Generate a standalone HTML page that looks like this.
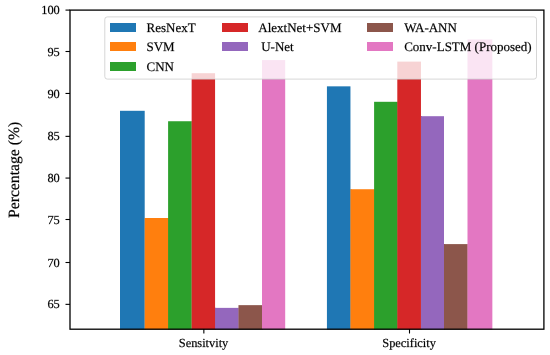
<!DOCTYPE html>
<html><head><meta charset="utf-8"><style>
html,body{margin:0;padding:0;background:#fff;width:550px;height:355px;overflow:hidden}
svg{display:block;will-change:transform}
text{font-family:"Liberation Serif",serif;fill:#000;stroke:#000;stroke-width:0.3px;stroke-opacity:0.6;text-rendering:geometricPrecision}
</style></head><body>
<svg width="550" height="355" viewBox="0 0 550 355">
<rect x="0" y="0" width="550" height="355" fill="#fff"/>
<!-- bars -->
<g>
<rect x="120.0" y="110.8" width="24.7" height="218.8" fill="#1f77b4"/>
<rect x="144.7" y="218.0" width="1" height="111.6" fill="#1f77b4"/>
<rect x="144.7" y="218.0" width="23.4" height="111.6" fill="#ff7f0e"/>
<rect x="168.1" y="218.0" width="1" height="111.6" fill="#ff7f0e"/>
<rect x="168.1" y="121.24" width="23.55" height="208.36" fill="#2ca02c"/>
<rect x="191.65" y="121.24" width="1" height="208.36" fill="#2ca02c"/>
<rect x="191.65" y="73.2" width="23.42" height="256.4" fill="#d62728"/>
<rect x="215.07" y="307.87" width="1" height="21.73" fill="#d62728"/>
<rect x="215.07" y="307.87" width="23.39" height="21.73" fill="#9467bd"/>
<rect x="238.46" y="307.87" width="1" height="21.73" fill="#9467bd"/>
<rect x="238.46" y="305.15" width="23.54" height="24.45" fill="#8c564b"/>
<rect x="262.0" y="305.15" width="1" height="24.45" fill="#8c564b"/>
<rect x="262.0" y="60.1" width="23.2" height="269.5" fill="#e377c2"/>
<rect x="326.93" y="86.34" width="23.52" height="243.26" fill="#1f77b4"/>
<rect x="350.45" y="189.23" width="1" height="140.37" fill="#1f77b4"/>
<rect x="350.45" y="189.23" width="23.65" height="140.37" fill="#ff7f0e"/>
<rect x="374.1" y="189.23" width="1" height="140.37" fill="#ff7f0e"/>
<rect x="374.1" y="101.8" width="23.2" height="227.8" fill="#2ca02c"/>
<rect x="397.3" y="101.8" width="1" height="227.8" fill="#2ca02c"/>
<rect x="397.3" y="61.6" width="23.66" height="268.0" fill="#d62728"/>
<rect x="420.96" y="116.2" width="1" height="213.4" fill="#d62728"/>
<rect x="420.96" y="116.2" width="23.04" height="213.4" fill="#9467bd"/>
<rect x="444.0" y="244.1" width="1" height="85.5" fill="#9467bd"/>
<rect x="444.0" y="244.1" width="23.5" height="85.5" fill="#8c564b"/>
<rect x="467.5" y="244.1" width="1" height="85.5" fill="#8c564b"/>
<rect x="467.5" y="39.5" width="24.85" height="290.1" fill="#e377c2"/>
</g>
<!-- spines -->
<g fill="none" stroke="#000" stroke-width="1.3">
<rect x="70" y="10.1" width="473.9" height="319.1"/>
</g>
<!-- y ticks -->
<g stroke="#000" stroke-width="1.1">
<line x1="65.5" y1="10.1" x2="70" y2="10.1"/>
<line x1="65.5" y1="51.5" x2="70" y2="51.5"/>
<line x1="65.5" y1="93.45" x2="70" y2="93.45"/>
<line x1="65.5" y1="136.35" x2="70" y2="136.35"/>
<line x1="65.5" y1="178.07" x2="70" y2="178.07"/>
<line x1="65.5" y1="219.5" x2="70" y2="219.5"/>
<line x1="65.5" y1="262.5" x2="70" y2="262.5"/>
<line x1="65.5" y1="304.35" x2="70" y2="304.35"/>
<line x1="203.85" y1="329" x2="203.85" y2="333.5"/>
<line x1="409.5" y1="329" x2="409.5" y2="333.5"/>
</g>
<g font-size="12.4" text-anchor="end">
<text x="59.8" y="14.2">100</text>
<text x="59.8" y="55.6">95</text>
<text x="59.8" y="97.55">90</text>
<text x="59.8" y="140.45">85</text>
<text x="59.8" y="182.17">80</text>
<text x="59.8" y="223.6">75</text>
<text x="59.8" y="266.6">70</text>
<text x="59.8" y="308.45">65</text>
</g>
<g font-size="12.4" text-anchor="middle">
<text x="203.55" y="347.2">Sensitvity</text>
<text x="409.1" y="347.2">Specificity</text>
</g>
<text font-size="15.7" text-anchor="middle" transform="translate(18.9,169.9) rotate(-90)">Percentage (%)</text>
<!-- legend -->
<rect x="104.8" y="16.9" width="431.7" height="62.2" rx="2.5" ry="2.5" fill="#fff" fill-opacity="0.8" stroke="#ccc" stroke-opacity="0.8" stroke-width="1"/>
<g shape-rendering="crispEdges">
<rect x="109.8" y="22.7" width="25.9" height="8.8" fill="#1f77b4"/>
<rect x="109.8" y="42.2" width="25.9" height="8.8" fill="#ff7f0e"/>
<rect x="109.8" y="61.7" width="25.9" height="8.8" fill="#2ca02c"/>
<rect x="221.8" y="22.7" width="25.9" height="8.8" fill="#d62728"/>
<rect x="221.8" y="42.2" width="25.9" height="8.8" fill="#9467bd"/>
<rect x="367.3" y="22.7" width="25.9" height="8.8" fill="#8c564b"/>
<rect x="367.3" y="42.2" width="25.9" height="8.8" fill="#e377c2"/>
</g>
<g font-size="13">
<text x="146.5" y="31.7">ResNexT</text>
<text x="146.5" y="51.2">SVM</text>
<text x="146.5" y="70.7">CNN</text>
<text x="258.3" y="31.7">AlextNet+SVM</text>
<text x="261.2" y="51.2">U-Net</text>
<text x="404.2" y="31.7">WA-ANN</text>
<text x="404.2" y="51.2">Conv-LSTM (Proposed)</text>
</g>
</svg>
</body></html>
